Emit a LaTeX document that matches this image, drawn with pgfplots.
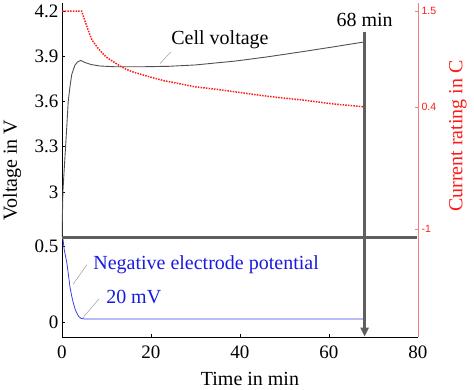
\documentclass[border=0pt]{standalone}
\usepackage{fontspec}
\setmainfont{Liberation Serif}
\newfontfamily\arialf{Liberation Sans}
\usepackage{pgfplots}
\usepackage{pgfplotstable}
\pgfplotsset{compat=1.18}
\usetikzlibrary{arrows.meta}
\definecolor{cellgray}{HTML}{505050}
\definecolor{arrowgray}{HTML}{5F5F5F}
\definecolor{leadgray}{HTML}{A0A0A0}
\definecolor{negblue}{HTML}{3C3CF0}
\definecolor{textblue}{HTML}{1A1AE0}
\definecolor{curred}{HTML}{FF1A1A}
\definecolor{spinered}{HTML}{F08080}
\newcommand\bigf{\fontsize{20}{24}\selectfont}
% cell voltage in V (drawn in the upper, broken part of the voltage axis)
\pgfplotstableread{
t v
0 2.70
0.2 3.0
0.6 3.2
1.05 3.42
1.4 3.6
1.8 3.7
2.2 3.78
2.9 3.84
3.5 3.862
4.2 3.872
5 3.86
6.5 3.845
8.5 3.835
12 3.83
18 3.83
24 3.833
30 3.842
39 3.868
46 3.895
54 3.93
61 3.962
68 3.995
}\cellV
% negative electrode potential in V
\pgfplotstableread{
t v
0.2 0.555
0.5 0.48
1.1 0.39
1.5 0.30
1.8 0.23
2.2 0.17
2.5 0.13
3.0 0.08
3.4 0.055
3.8 0.035
4.3 0.023
5 0.02
68 0.02
}\negV
% current rating in C
\pgfplotstableread{
t c
0 1.5
4.4 1.5
5.0 1.41
5.6 1.32
6.7 1.17
8 1.08
9 1.02
10 0.97
11.5 0.92
13 0.87
14.5 0.83
16 0.80
18 0.77
20 0.74
23 0.70
26 0.67
30 0.63
35 0.60
39.3 0.57
45 0.53
50 0.50
54 0.48
60 0.44
64 0.42
68 0.40
}\curC
\begin{document}
\begin{tikzpicture}[x=1pt,y=1pt]
\useasboundingbox (-62,-52) rectangle (412,337);
\pgfplotsset{
  base/.style={
    scale only axis, width=356pt, height=334pt, xmin=0, xmax=80,
    at={(0,0)}, anchor=south west,
    clip mode=individual,
    /pgf/number format/assume math mode=true,
    tick label style={font=\fontsize{19}{22}\selectfont},
    major tick length=3pt, tick align=inside,
    axis line style={black, line width=0.6pt},
    every tick/.style={black, line width=0.5pt},
  }
}
% voltage axis with a break: below 0.56 V true scale, above shifted by 2.137 V
\begin{axis}[base,
  ymin=-0.1, ymax=2.116,
  ytick={0,0.5,0.863,1.163,1.463,1.763,2.063},
  yticklabels={0,0.5,3,3.3,3.6,3.9,4.2},
  xtick={0,20,40,60,80},
  axis x line*=bottom, axis y line*=left,
  xticklabel style={yshift=-5pt}]
\addplot[negblue, line width=0.8pt] table[x=t, y=v] {\negV};
\addplot[cellgray, line width=0.9pt] table[x=t, y expr=\thisrow{v}-2.137] {\cellV};
\draw[arrowgray, line width=2.2pt] (axis cs:0,0.56) -- (axis cs:79.8,0.56);
\draw[leadgray, line width=0.5pt] (axis cs:2.5,0.25) -- (axis cs:5.6,0.38);
\draw[leadgray, line width=0.5pt] (axis cs:4.7,0.027) -- (axis cs:8.3,0.153);
\draw[leadgray, line width=0.5pt] (axis cs:22,{3.85-2.137}) -- (axis cs:24.5,{3.93-2.137});
\node[anchor=west, inner sep=0pt, textblue, font=\bigf] at (axis cs:7.0,0.38) {Negative electrode potential};
\node[anchor=west, inner sep=0pt, textblue, font=\bigf] at (axis cs:9.9,0.167) {20 mV};
\node[font=\bigf] at (axis cs:35.5,{4.01-2.137}) {Cell voltage};
\node[font=\bigf] at (axis cs:68,{4.14-2.137}) {68 min};
\node[font=\bigf] at ([yshift=-42pt]rel axis cs:0.528,0) {Time in min};
\node[rotate=90, font=\bigf] at ([xshift=-50pt]rel axis cs:0,0.5) {Voltage in V};
\end{axis}
% current axis, full height
\begin{axis}[base,
  ymin=-2.239, ymax=1.592, ytick={-1,0.4,1.5}, xtick=\empty,
  axis x line=none, axis y line*=right,
  y axis line style={spinered, line width=0.8pt},
  every tick/.style={spinered, line width=0.6pt},
  yticklabel style={font=\arialf\fontsize{10.5}{12}\selectfont, text=curred}]
\addplot[curred, line width=1.5pt, dash pattern=on 1.5pt off 1.2pt] table[x=t, y=c] {\curC};
\draw[arrowgray, line width=2.5pt, -{Triangle[length=9pt,width=8pt]}] (axis cs:68,1.26) -- (axis cs:68,-2.235);
\node[rotate=90, font=\bigf, text=curred] at ([xshift=40pt]rel axis cs:1,0.602) {Current rating in C};
\end{axis}
\end{tikzpicture}
\end{document}
